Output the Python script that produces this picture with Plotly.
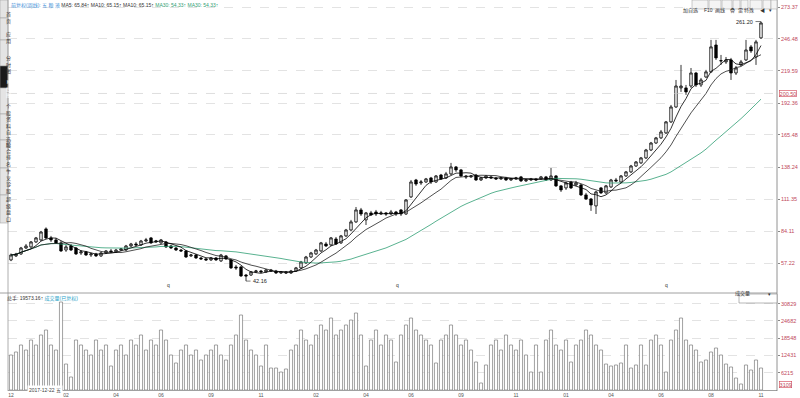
import plotly.graph_objects as go
import pandas as pd

# ---------------- data ----------------
opens = [
    60.0, 63.4, 65.1, 70.1, 71.0, 75.2, 76.9, 86.2, 78.6, 76.9,
    74.4, 68.4, 71.8, 70.1, 65.9, 66.8, 64.2, 65.1, 63.4, 65.9,
    67.6, 66.8, 68.4, 68.4, 71.8, 73.5, 72.7, 76.0, 78.6, 75.2,
    74.4, 75.2, 71.8, 70.1, 68.4, 67.6, 63.4, 64.2, 61.7, 60.9,
    60.0, 61.7, 59.2, 63.4, 60.0, 54.1, 54.1, 47.3, 47.3, 49.9,
    50.7, 49.9, 51.6, 50.7, 49.0, 49.9, 49.0, 50.7, 53.3, 57.5,
    62.5, 65.1, 67.6, 73.5, 72.7, 77.7, 74.4, 80.3, 85.3, 92.1,
    102.2, 93.8, 99.7, 100.5, 98.8, 99.7, 98.8, 100.5, 102.2, 98.8,
    113.2, 127.5, 125.0, 125.8, 129.2, 125.8, 131.7, 129.2, 132.6, 138.5,
    136.0, 130.9, 130.1, 131.7, 127.5, 129.2, 130.1, 129.2, 128.4, 129.2,
    127.5, 128.4, 130.1, 126.7, 127.5, 128.4, 128.4, 130.1, 127.5, 130.9,
    122.5, 120.8, 125.8, 123.3, 123.3, 114.9, 111.5, 105.6, 120.8, 116.6,
    121.6, 127.5, 125.8, 130.9, 134.3, 139.3, 141.9, 146.1, 152.8, 158.7,
    163.0, 167.2, 176.5, 189.1, 205.2, 205.2, 206.8, 217.8, 207.7, 214.4,
    218.7, 241.4, 227.9, 227.1, 228.8, 217.8, 224.6, 228.8, 239.8, 231.3,
    247.4]
closes = [
    64.2, 65.1, 70.1, 71.8, 75.2, 78.6, 83.6, 78.6, 76.9, 74.4,
    67.6, 71.0, 68.4, 65.1, 66.8, 64.2, 65.1, 63.4, 65.9, 67.6,
    66.8, 68.4, 69.3, 71.8, 73.5, 72.7, 76.0, 76.9, 74.4, 76.0,
    76.9, 71.0, 70.1, 68.4, 67.6, 62.5, 64.2, 61.7, 60.9, 60.0,
    61.7, 60.0, 64.2, 60.9, 53.3, 53.3, 46.5, 46.5, 49.9, 50.7,
    49.9, 51.6, 50.7, 49.0, 49.9, 49.0, 50.7, 53.3, 58.3, 62.5,
    65.9, 68.4, 74.4, 71.8, 78.6, 73.5, 80.3, 85.3, 92.1, 102.2,
    98.8, 99.7, 98.0, 98.8, 99.7, 98.8, 100.5, 98.8, 98.8, 110.6,
    125.8, 124.1, 125.8, 128.4, 125.8, 130.9, 128.4, 132.6, 138.5, 136.0,
    130.9, 130.1, 130.9, 127.5, 129.2, 130.9, 129.2, 128.4, 129.2, 127.5,
    128.4, 129.2, 126.7, 127.5, 128.4, 127.5, 130.1, 127.5, 130.9, 122.5,
    119.1, 125.0, 120.8, 125.0, 114.9, 111.5, 106.4, 117.4, 116.6, 122.5,
    127.5, 126.7, 130.9, 134.3, 139.3, 142.7, 146.1, 152.8, 158.7, 163.0,
    168.0, 176.5, 189.1, 206.8, 206.8, 201.8, 217.8, 207.7, 211.9, 218.7,
    239.8, 230.5, 228.2, 228.8, 217.8, 222.0, 227.1, 237.2, 236.4, 244.0,
    260.0]
highs = [
    65.5, 66.0, 71.0, 73.5, 76.0, 79.4, 84.5, 87.5, 80.3, 78.6,
    76.0, 72.7, 73.5, 71.0, 68.4, 67.6, 66.0, 66.0, 66.8, 68.4,
    69.3, 69.3, 70.1, 72.7, 74.4, 75.2, 76.9, 78.6, 79.4, 76.9,
    77.7, 76.0, 72.7, 71.0, 69.3, 68.4, 65.1, 65.1, 62.5, 61.7,
    62.5, 62.5, 65.1, 64.2, 60.9, 55.8, 54.9, 48.2, 50.7, 51.6,
    51.6, 52.4, 52.4, 51.6, 50.7, 50.7, 51.6, 54.1, 59.2, 63.4,
    66.8, 69.3, 75.2, 75.2, 79.4, 79.4, 81.1, 86.2, 93.8, 104.7,
    103.9, 100.5, 101.4, 102.2, 101.4, 100.5, 102.2, 101.4, 103.0, 111.4,
    127.5, 128.4, 127.5, 129.2, 130.1, 131.7, 132.6, 134.3, 141.9, 139.3,
    136.8, 131.7, 131.7, 132.6, 130.1, 131.7, 130.9, 130.1, 130.1, 130.1,
    129.2, 130.1, 130.9, 128.4, 129.2, 129.2, 130.9, 130.9, 137.6, 131.7,
    123.3, 125.8, 126.7, 126.7, 124.1, 116.6, 112.3, 118.3, 121.6, 123.3,
    128.4, 129.2, 131.7, 135.1, 140.2, 143.5, 146.9, 153.7, 159.6, 163.8,
    169.7, 177.3, 190.8, 211.9, 224.6, 207.7, 222.0, 218.7, 213.6, 220.4,
    245.7, 245.7, 233.0, 231.3, 230.5, 223.7, 228.8, 245.7, 241.4, 245.7,
    261.2]
lows = [
    59.0, 62.5, 64.2, 69.3, 70.1, 74.4, 76.0, 77.7, 75.2, 73.5,
    66.8, 66.8, 67.6, 64.2, 64.2, 63.4, 62.5, 62.5, 62.5, 65.1,
    65.9, 65.9, 67.6, 67.6, 71.0, 71.8, 71.8, 75.2, 73.5, 74.4,
    73.5, 70.1, 69.3, 67.6, 66.8, 61.7, 62.5, 60.9, 60.0, 59.2,
    59.2, 59.2, 58.3, 60.0, 52.4, 51.6, 45.7, 42.16, 46.5, 49.0,
    49.0, 49.0, 49.9, 48.2, 48.2, 48.2, 48.2, 49.9, 52.4, 56.6,
    61.7, 64.2, 66.8, 71.0, 71.8, 72.7, 73.5, 79.4, 84.5, 91.3,
    97.1, 89.5, 97.1, 97.1, 98.0, 97.1, 98.0, 97.1, 97.1, 98.0,
    112.3, 122.5, 123.3, 125.0, 124.1, 125.0, 127.5, 128.4, 131.7, 134.3,
    130.1, 128.4, 129.2, 126.7, 126.7, 128.4, 128.4, 127.5, 127.5, 126.7,
    126.7, 127.5, 125.8, 125.8, 126.7, 126.7, 127.5, 126.7, 126.7, 121.6,
    117.4, 119.1, 119.9, 122.5, 114.0, 110.6, 101.4, 98.8, 115.7, 115.7,
    120.8, 125.8, 125.0, 130.1, 133.4, 138.5, 141.0, 145.2, 151.9, 157.9,
    162.1, 166.3, 175.6, 188.3, 201.8, 199.3, 205.2, 206.0, 206.0, 213.6,
    217.8, 228.8, 224.6, 225.4, 211.9, 216.1, 223.7, 227.9, 234.7, 224.6,
    246.5]
volumes = [
    12500, 13570, 16070, 14280, 17850, 16070, 19640, 21420, 16070, 14280,
    31420, 9280, 4640, 17850, 16070, 14280, 12500, 17850, 14280, 16070,
    8570, 14280, 16070, 12500, 17850, 16070, 19640, 14280, 17850, 16070,
    21420, 17850, 12500, 9640, 14280, 16070, 12500, 14280, 10710, 12500,
    14280, 16070, 12500, 10710, 16070, 19640, 26780, 17850, 14280, 12500,
    8570, 16070, 7850, 7850, 6430, 7500, 14280, 16070, 21420, 17850,
    16070, 19640, 23210, 21420, 25700, 19640, 21420, 23210, 24990, 27490,
    19640, 8570, 17850, 21420, 16070, 19640, 17850, 10000, 19640, 23210,
    25700, 21420, 19640, 17850, 16070, 9640, 17850, 19640, 23210, 19640,
    16070, 17850, 14280, 10000, 2500, 8930, 16070, 17850, 14280, 19640,
    16070, 14280, 17850, 12500, 6430, 16070, 6430, 17850, 21420, 16070,
    14280, 17850, 10000, 16070, 17850, 21420, 19640, 16070, 14280, 9280,
    8570, 8930, 9640, 16070, 7850, 8930, 16070, 8930, 17850, 19640,
    16070, 6430, 17850, 21420, 25700, 17850, 16070, 14280, 10000, 10710,
    13570, 14990, 12500, 9280, 8210, 4280, 2140, 8930, 7140, 10710,
    7850]

price_ticks = [57.22, 84.11, 111.35, 138.24, 165.48, 192.36, 219.59, 246.48, 273.37]
vol_ticks = [6215, 12431, 18548, 24682, 30829]
month_pos = [0, 11, 21, 30, 40, 50, 61, 71, 80, 90, 101, 111, 120, 130, 140, 150]
month_labels = ["12", "02", "04", "06", "09", "11", "02", "04", "06", "09",
                "11", "01", "04", "06", "08", "11"]
sidebar_tabs = ["首页", "应用", "分时图", "K线图", "个股资料", "自选股", "综合排名", "牛叉诊股", "超级盘口"]
top_buttons = ["加自选", "F10", "画线", "叠", "雷", "特殊", "◀", "▾"]

# ---------------- derived ----------------
n = len(closes)
idx = list(range(n))
cs = pd.Series(closes)
ma5 = cs.rolling(5, min_periods=1).mean()
ma10 = cs.rolling(10, min_periods=1).mean()
ma30 = cs.rolling(30, min_periods=1).mean()

W, H = 800, 398
L, R, T, B = 8, 23, 4, 8
PW = W - L - R
PH = H - T - B


def px(x):
    return (x - L) / PW


def py(y):
    return (H - B - y) / PH


FONT = "Liberation Sans, Arial, Noto Sans CJK SC, sans-serif"
RED = "#c0485a"

fig = go.Figure()
fig.add_trace(go.Candlestick(
    x=idx, open=opens, high=highs, low=lows, close=closes,
    increasing=dict(line=dict(color="#000000", width=0.8), fillcolor="#ffffff"),
    decreasing=dict(line=dict(color="#000000", width=0.8), fillcolor="#000000"),
    whiskerwidth=0, showlegend=False, hoverinfo="skip"))
for ma, col in [(ma30, "#2f9e74"), (ma10, "#222222"), (ma5, "#000000")]:
    fig.add_trace(go.Scatter(x=idx, y=ma, mode="lines", line=dict(color=col, width=0.8),
                             showlegend=False, hoverinfo="skip"))
fig.add_trace(go.Bar(x=idx, y=volumes, yaxis="y2", width=0.62,
                     marker=dict(color="#ffffff", line=dict(color="#7a7a7a", width=0.7)),
                     showlegend=False, hoverinfo="skip"))

shapes = []
annotations = []

# sidebar tabs
tab_bounds = [(0, 18), (18, 40), (40, 66), (66, 88), (88, 114), (114, 140), (140, 168), (168, 195), (195, 223)]
for (t0, t1), name in zip(tab_bounds, sidebar_tabs):
    active = name == "K线图"
    shapes.append(dict(type="rect", xref="paper", yref="paper", x0=px(0), x1=px(8), y0=py(t1), y1=py(t0),
                       fillcolor="#1a1a1a" if active else "#e4e4e4", line=dict(color="#9a9a9a", width=0.5), layer="above"))
    annotations.append(dict(xref="paper", yref="paper", x=px(4), y=py((t0 + t1) / 2), showarrow=False,
                            text="<br>".join(list(name)), font=dict(size=5, color="#ffffff" if active else "#333333", family=FONT)))

# frame lines
shapes.append(dict(type="line", xref="paper", yref="paper", x0=1, x1=1, y0=py(391), y1=py(0), line=dict(color="#777777", width=0.8)))
shapes.append(dict(type="line", xref="paper", yref="paper", x0=0, x1=0, y0=py(391), y1=py(0), line=dict(color="#999999", width=0.8)))
shapes.append(dict(type="line", xref="paper", yref="paper", x0=px(0), x1=1, y0=py(293), y1=py(293), line=dict(color="#888888", width=0.8)))
# crosshair horizontal
shapes.append(dict(type="line", xref="paper", yref="y", x0=0, x1=1, y0=200.5, y1=200.5, line=dict(color="#c8c8c8", width=0.6, dash="dash")))

# right axis tick labels (placed as text beside the axis)
for v in price_ticks:
    annotations.append(dict(xref="paper", yref="y", x=px(779), y=v, xanchor="left", yanchor="middle",
                            showarrow=False, text=f"{v:.2f}", font=dict(size=5.5, color=RED, family=FONT)))
for v in vol_ticks:
    annotations.append(dict(xref="paper", yref="y2", x=px(779), y=v, xanchor="left", yanchor="middle",
                            showarrow=False, text=str(v), font=dict(size=5.5, color=RED, family=FONT)))

# top-right buttons
btn_bounds = [(692, 708), (709, 721), (722, 732), (733, 740), (741, 748), (750, 762), (763, 771), (771, 777)]
for (b0, b1), name in zip(btn_bounds, top_buttons):
    shapes.append(dict(type="rect", xref="paper", yref="paper", x0=px(b0), x1=px(b1), y0=py(9), y1=py(0),
                       fillcolor="#f4f4f4", line=dict(color="#999999", width=0.5)))
    annotations.append(dict(xref="paper", yref="paper", x=px((b0 + b1) / 2), y=py(4.5), showarrow=False,
                            text=name, font=dict(size=5, color="#333333", family=FONT)))

# header
header = ("<span style='color:#3f8fd8'>前复权(周线): 五 粮 液</span> "
          "<span style='color:#333333'>MA5: 65.84↑ MA10: 65.15↑ MA10: 65.15↑</span> "
          "<span style='color:#2f9e74'>MA30: 54.33↑ MA30: 54.33↑</span>")
annotations.append(dict(xref="paper", yref="paper", x=px(9), y=py(5), xanchor="left", yanchor="middle",
                        showarrow=False, text=header, font=dict(size=5, family=FONT)))

# volume header
vheader = ("<span style='color:#333333'>总手: 19573.16↑</span> "
           "<span style='color:#29a3c8'>成交量(已复权)</span>")
annotations.append(dict(xref="paper", yref="paper", x=px(5), y=py(298), xanchor="left", yanchor="middle",
                        showarrow=False, text=vheader, font=dict(size=5, family=FONT)))
shapes.append(dict(type="rect", xref="paper", yref="paper", x0=px(739), x1=1, y0=py(303), y1=py(294),
                   fillcolor="#ffffff", line=dict(color="#888888", width=0.6)))
annotations.append(dict(xref="paper", yref="paper", x=px(752), y=py(298.5), showarrow=False,
                        text="成交量", font=dict(size=5, color="#333333", family=FONT)))
annotations.append(dict(xref="paper", yref="paper", x=px(773), y=py(298.5), showarrow=False,
                        text="▾", font=dict(size=5, color="#333333", family=FONT)))

# extreme labels
annotations.append(dict(x=148.8, y=highs[-1], xanchor="right", yanchor="middle", showarrow=False,
                        text=f"{highs[-1]:.2f}", font=dict(size=5.5, color="#222222", family=FONT)))
shapes.append(dict(type="line", x0=148.9, x1=150, y0=highs[-1], y1=highs[-1], line=dict(color="#222222", width=0.6)))
low_i = lows.index(min(lows))
annotations.append(dict(x=low_i + 0.9, y=min(lows), xanchor="left", yanchor="middle", showarrow=False,
                        text=f"{min(lows):.2f}", font=dict(size=5.5, color="#222222", family=FONT)))
shapes.append(dict(type="line", x0=low_i, x1=low_i + 0.9, y0=min(lows), y1=min(lows), line=dict(color="#222222", width=0.6)))

# q markers
for qx in [31.4, 77.2, 131.0]:
    annotations.append(dict(x=qx, xref="x", yref="paper", y=py(289.5), showarrow=False,
                            text="q", font=dict(size=5, color="#333333", family=FONT)))

# cursor boxes on right axis
annotations.append(dict(xref="paper", yref="y", x=px(779), y=200.5, xanchor="left", showarrow=False,
                        text="200.50", font=dict(size=5.5, color=RED, family=FONT),
                        bgcolor="#ffffff", bordercolor="#d04050", borderwidth=0.6, borderpad=0))
annotations.append(dict(xref="paper", yref="paper", x=px(779), y=py(388), xanchor="left", showarrow=False,
                        text="3109", font=dict(size=5.5, color=RED, family=FONT),
                        bgcolor="#ffffff", bordercolor="#d04050", borderwidth=0.6, borderpad=0))
# cursor date
annotations.append(dict(xref="paper", yref="paper", x=px(27), y=py(394.5), xanchor="left", showarrow=False,
                        text="2017-12-22 五", font=dict(size=5, color="#444444", family=FONT), bgcolor="#ffffff"))

fig.update_layout(
    width=W, height=H, margin=dict(l=L, r=R, t=T, b=B),
    paper_bgcolor="#ffffff", plot_bgcolor="#ffffff", showlegend=False, hovermode=False,
    bargap=0,
    xaxis=dict(range=[-0.6, 153.2], anchor="y2", tickmode="array", tickvals=month_pos, ticktext=month_labels,
               showgrid=False, zeroline=False, showline=True, linecolor="#888888", linewidth=0.8,
               ticks="", tickfont=dict(size=5, color="#555555", family=FONT),
               rangeslider=dict(visible=False), automargin=False, fixedrange=True),
    yaxis=dict(domain=[py(291), 1], range=[33.8, 276.0], side="right", tickmode="array",
               tickvals=price_ticks, showticklabels=False,
               showgrid=True, gridcolor="#d0d0d0", griddash="dash", gridwidth=0.6, zeroline=False,
               showline=False, ticks="outside", ticklen=2, tickcolor="#888888", automargin=False),
    yaxis2=dict(domain=[0, py(292)], range=[0, 35000], side="right", tickmode="array",
                tickvals=vol_ticks, showticklabels=False,
                showgrid=True, gridcolor="#d0d0d0", griddash="dash", gridwidth=0.6, zeroline=False,
                showline=False, ticks="outside", ticklen=2, tickcolor="#888888", automargin=False),
    shapes=shapes, annotations=annotations,
)

fig.write_html("out.html", config={"displayModeBar": False, "staticPlot": True})
# remove the browser's default page margin so the 800x398 figure fills the window exactly
with open("out.html", "r", encoding="utf-8") as f:
    html = f.read()
html = html.replace("<head>", "<head><style>html,body{margin:0;padding:0;overflow:hidden;}</style>", 1)
with open("out.html", "w", encoding="utf-8") as f:
    f.write(html)
